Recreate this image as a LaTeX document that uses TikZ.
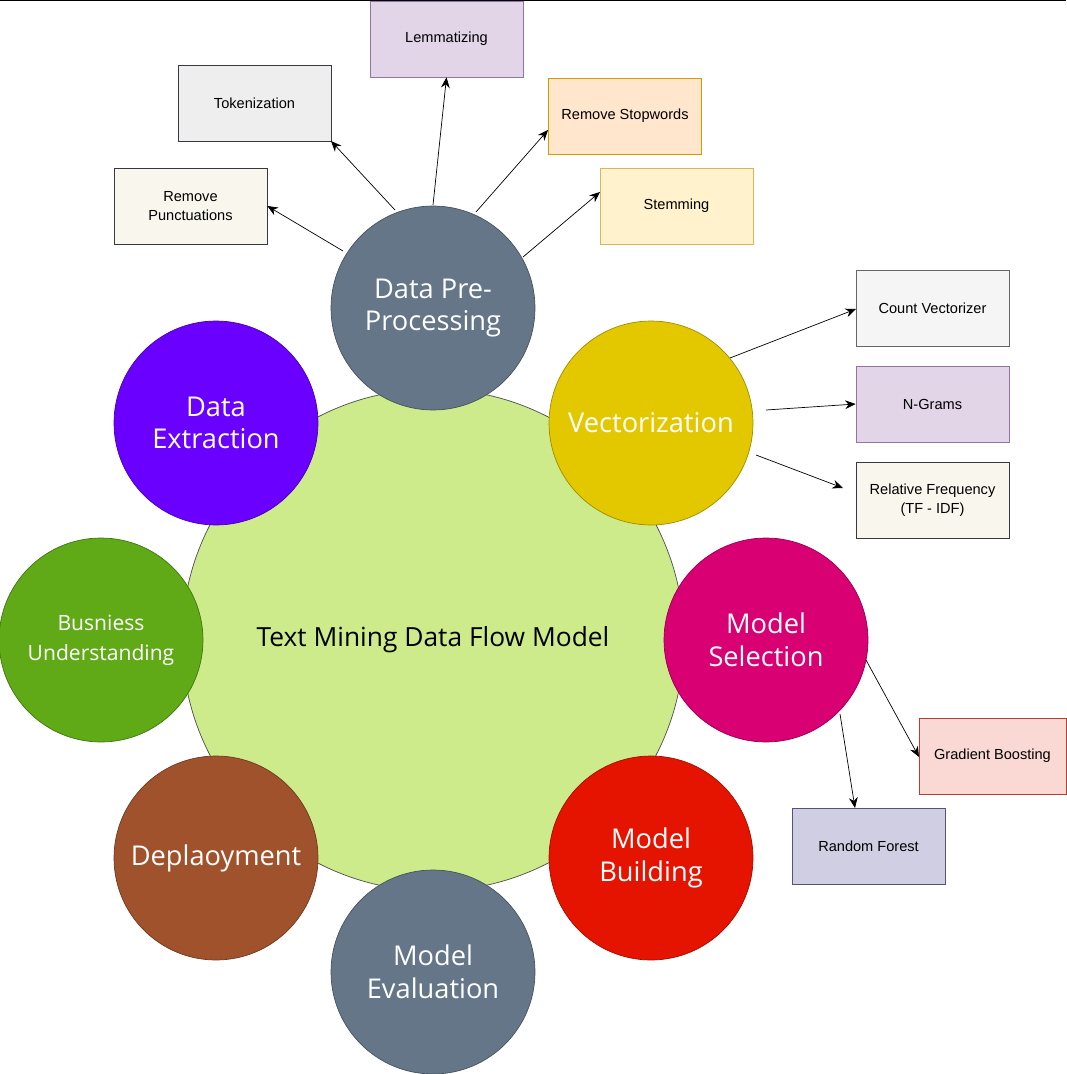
\documentclass[tikz,border=0pt]{standalone}
\usepackage{fontspec}
\setmainfont{Liberation Sans}
\newfontfamily\circfont{Open Sans}
\usetikzlibrary{arrows.meta}
\definecolor{cgray}{HTML}{647687}\definecolor{cyel}{HTML}{E3C800}
\definecolor{cpur}{HTML}{6A00FF}\definecolor{cgrn}{HTML}{60A917}
\definecolor{cmag}{HTML}{D80073}\definecolor{cbrn}{HTML}{A0522D}
\definecolor{cred}{HTML}{E51400}\definecolor{clime}{HTML}{CDEB8B}
\definecolor{fpur}{HTML}{E1D5E7}\definecolor{bpur}{HTML}{9673A6}
\definecolor{fgry}{HTML}{EEEEEE}\definecolor{bgry}{HTML}{36393D}
\definecolor{forg}{HTML}{FFE6CC}\definecolor{borg}{HTML}{D79B00}
\definecolor{fcrm}{HTML}{F9F7ED}
\definecolor{fyel}{HTML}{FFF2CC}\definecolor{byel}{HTML}{D6B656}
\definecolor{fwht}{HTML}{F5F5F5}\definecolor{bwht}{HTML}{666666}
\definecolor{fpnk}{HTML}{FAD9D5}\definecolor{bpnk}{HTML}{AE4132}
\definecolor{flav}{HTML}{D0CEE2}\definecolor{blav}{HTML}{56517E}
\begin{document}
\begin{tikzpicture}[x=0.02cm,y=-0.02cm,
  circ/.style={circle,minimum size=4.08cm,inner sep=0pt,draw=#1!70!black,fill=#1,text=white,font=\circfont\fontsize{15.5}{18.5}\selectfont,align=center},
  boxn/.style 2 args={draw=#2,fill=#1,minimum width=3.06cm,minimum height=1.52cm,inner sep=1pt,align=center,font=\fontsize{8.3}{10.5}\selectfont},
  arr/.style={-{Stealth[length=6pt,width=5pt]},thin}]
\useasboundingbox (0,0) rectangle (1066,1074);
\draw[black,line width=1pt] (0,0) -- (1066,0);
\node[circle,minimum size=10.04cm,draw=black!70,fill=clime,font=\circfont\fontsize{15}{18}\selectfont] (main) at (433,640) {Text Mining Data Flow Model};
\node[circ=cgray] (pre) at (433,308) {Data Pre-\\Processing};
\node[circ=cyel] (vec) at (651,423) {Vectorization};
\node[circ=cpur] (ext) at (216,423) {Data\\Extraction};
\node[circ=cgrn,font=\circfont\fontsize{12}{17}\selectfont] (bus) at (101,640) {Busniess\\Understanding};
\node[circ=cmag] (sel) at (766,640) {Model\\Selection};
\node[circ=cbrn] (dep) at (216,858) {Deplaoyment};
\node[circ=cred] (bld) at (651,858) {Model\\Building};
\node[circ=cgray] (evl) at (433,972) {Model\\Evaluation};
\node[boxn={fpur}{bpur}] (lem) at (446.5,39) {Lemmatizing};
\node[boxn={fgry}{bgry}] (tok) at (254.5,103.5) {Tokenization};
\node[boxn={forg}{borg}] (stw) at (625,116) {Remove Stopwords};
\node[boxn={fcrm}{bgry}] (pun) at (190.5,206) {Remove\\Punctuations};
\node[boxn={fyel}{byel}] (stm) at (676.5,206) {Stemming};
\node[boxn={fwht}{bwht}] (cnt) at (932.5,308) {Count Vectorizer};
\node[boxn={fpur}{bpur}] (ngr) at (932.5,404) {N-Grams};
\node[boxn={fcrm}{bgry}] (rel) at (932.5,500) {Relative Frequency\\(TF - IDF)};
\node[boxn={fpnk}{bpnk},minimum width=2.94cm] (gbo) at (992.5,756) {Gradient Boosting};
\node[boxn={flav}{blav}] (rnf) at (868.5,846) {Random Forest};
\coordinate (p1) at (343,251); \coordinate (p2) at (395,210); \coordinate (p3) at (433,205);
\coordinate (p4) at (476,212); \coordinate (p5) at (523,257);
\coordinate (v1) at (730,358); \coordinate (v2) at (766,410); \coordinate (v3) at (756,455);
\coordinate (s1) at (866,660); \coordinate (s2) at (840,714);
\draw[arr] (p1) -- (pun.east |- 206,206);
\draw[arr] (p2) -- (331,141);
\draw[arr] (p3) -- (lem.south);
\draw[arr] (p4) -- (548,130);
\draw[arr] (p5) -- (600,192);
\draw[arr] (v1) -- (856,309);
\draw[arr] (v2) -- (ngr.west);
\draw[arr] (v3) -- (843,488);
\draw[arr] (s1) -- (919,757);
\draw[arr] (s2) -- (855,808);
\end{tikzpicture}
\end{document}
